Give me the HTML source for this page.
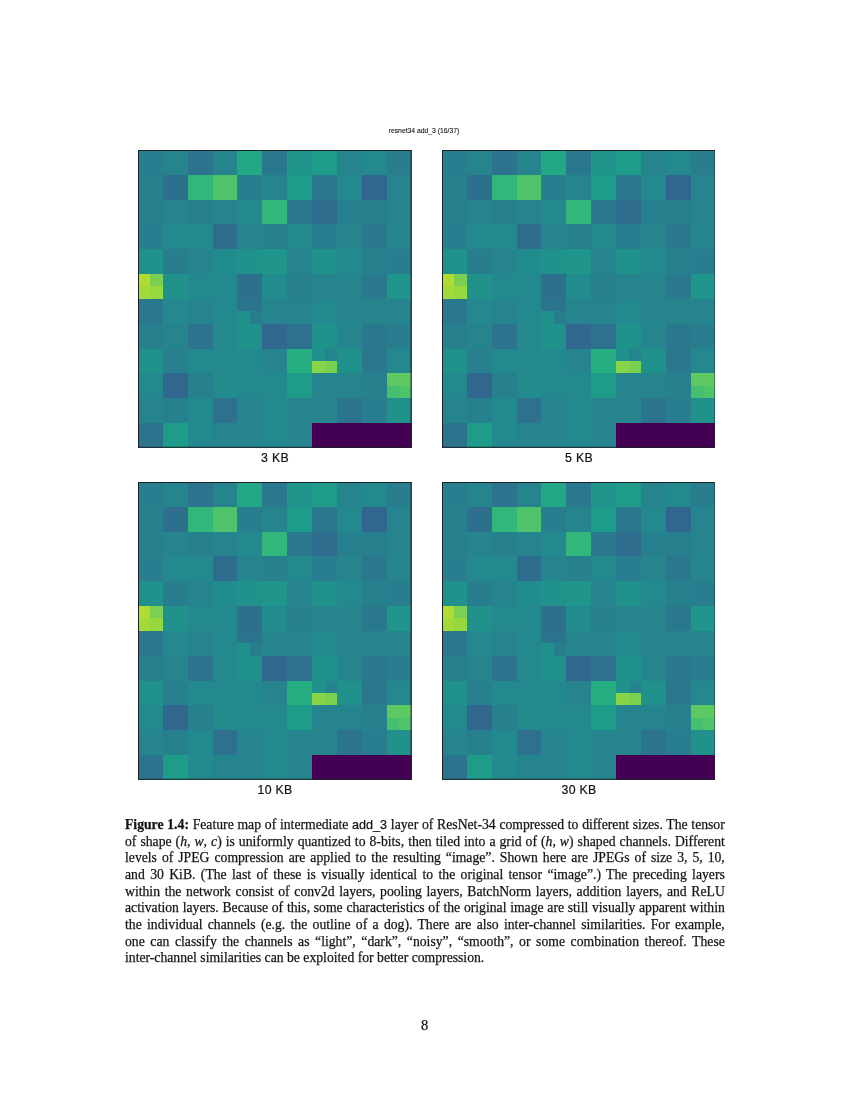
<!DOCTYPE html><html><head><meta charset="utf-8"><style>
html,body{margin:0;padding:0;background:#fff;}
.ln,.lbl,.ttl,.pg{will-change:transform;}
body{width:850px;height:1100px;position:relative;overflow:hidden;}
.ln{position:absolute;left:125.2px;width:599.8px;-webkit-text-stroke:0.25px #222;font-family:"Liberation Serif",serif;font-size:13.7px;line-height:16px;height:16px;color:#111;white-space:nowrap;text-align:justify;text-align-last:justify;}
.ln.last{text-align-last:left;}
.sf{font-family:"Liberation Sans",sans-serif;font-size:12.6px;}
.lbl{position:absolute;width:120px;text-align:center;font-family:"Liberation Sans",sans-serif;font-size:12.3px;letter-spacing:0.3px;color:#111;-webkit-text-stroke:0.2px #111;line-height:14px;white-space:nowrap;}
.ttl{position:absolute;width:120px;text-align:center;font-family:"Liberation Sans",sans-serif;font-size:6.8px;color:#111;-webkit-text-stroke:0.1px #111;line-height:8px;white-space:nowrap;}
.pg{position:absolute;-webkit-text-stroke:0.25px #222;font-family:"Liberation Serif",serif;font-size:14.5px;line-height:16px;color:#111;}
</style></head><body>

<div class="ttl" style="left:364.35px;top:126.6px">resnet34 add_3 (16/37)</div>
<svg style="position:absolute;left:138.0px;top:149.9px" width="273.6" height="297.8" viewBox="0 0 273.6 297.8" shape-rendering="crispEdges"><rect x="0" y="0" width="273.6" height="297.8" fill="#25848e"/><rect x="0.00" y="0.00" width="25.17" height="25.12" fill="#287d8e"/><rect x="24.87" y="0.00" width="25.17" height="25.12" fill="#25848e"/><rect x="49.75" y="0.00" width="25.17" height="25.12" fill="#2c738e"/><rect x="74.62" y="0.00" width="25.17" height="25.12" fill="#25848e"/><rect x="99.49" y="0.00" width="25.17" height="25.12" fill="#22a884"/><rect x="124.36" y="0.00" width="25.17" height="25.12" fill="#2a788e"/><rect x="149.24" y="0.00" width="25.17" height="25.12" fill="#1f958b"/><rect x="174.11" y="0.00" width="25.17" height="25.12" fill="#1e9c89"/><rect x="198.98" y="0.00" width="25.17" height="25.12" fill="#25848e"/><rect x="223.85" y="0.00" width="25.17" height="25.12" fill="#23898e"/><rect x="248.73" y="0.00" width="25.17" height="25.12" fill="#287d8e"/><rect x="0.00" y="24.82" width="25.17" height="25.12" fill="#27808e"/><rect x="24.87" y="24.82" width="25.17" height="25.12" fill="#2e6f8e"/><rect x="49.75" y="24.82" width="25.17" height="25.12" fill="#32b67a"/><rect x="74.62" y="24.82" width="25.17" height="25.12" fill="#4ec36b"/><rect x="99.49" y="24.82" width="25.17" height="25.12" fill="#287d8e"/><rect x="124.36" y="24.82" width="25.17" height="25.12" fill="#25848e"/><rect x="149.24" y="24.82" width="25.17" height="25.12" fill="#1e9c89"/><rect x="174.11" y="24.82" width="25.17" height="25.12" fill="#2a788e"/><rect x="198.98" y="24.82" width="25.17" height="25.12" fill="#23898e"/><rect x="223.85" y="24.82" width="25.17" height="25.12" fill="#31678e"/><rect x="248.73" y="24.82" width="25.17" height="25.12" fill="#25848e"/><rect x="0.00" y="49.63" width="25.17" height="25.12" fill="#27808e"/><rect x="24.87" y="49.63" width="25.17" height="25.12" fill="#25848e"/><rect x="49.75" y="49.63" width="25.17" height="25.12" fill="#27808e"/><rect x="74.62" y="49.63" width="25.17" height="25.12" fill="#25848e"/><rect x="99.49" y="49.63" width="25.17" height="25.12" fill="#23898e"/><rect x="124.36" y="49.63" width="25.17" height="25.12" fill="#32b67a"/><rect x="149.24" y="49.63" width="25.17" height="25.12" fill="#2a788e"/><rect x="174.11" y="49.63" width="25.17" height="25.12" fill="#2f6c8e"/><rect x="198.98" y="49.63" width="25.17" height="25.12" fill="#27808e"/><rect x="223.85" y="49.63" width="25.17" height="25.12" fill="#27808e"/><rect x="248.73" y="49.63" width="25.17" height="25.12" fill="#25848e"/><rect x="0.00" y="74.45" width="25.17" height="25.12" fill="#287d8e"/><rect x="24.87" y="74.45" width="25.17" height="25.12" fill="#23898e"/><rect x="49.75" y="74.45" width="25.17" height="25.12" fill="#23898e"/><rect x="74.62" y="74.45" width="25.17" height="25.12" fill="#2f6c8e"/><rect x="99.49" y="74.45" width="25.17" height="25.12" fill="#25848e"/><rect x="124.36" y="74.45" width="25.17" height="25.12" fill="#27808e"/><rect x="149.24" y="74.45" width="25.17" height="25.12" fill="#23898e"/><rect x="174.11" y="74.45" width="25.17" height="25.12" fill="#287d8e"/><rect x="198.98" y="74.45" width="25.17" height="25.12" fill="#25848e"/><rect x="223.85" y="74.45" width="25.17" height="25.12" fill="#2a788e"/><rect x="248.73" y="74.45" width="25.17" height="25.12" fill="#25848e"/><rect x="0.00" y="99.27" width="25.17" height="25.12" fill="#21918c"/><rect x="24.87" y="99.27" width="25.17" height="25.12" fill="#287d8e"/><rect x="49.75" y="99.27" width="25.17" height="25.12" fill="#25848e"/><rect x="74.62" y="99.27" width="25.17" height="25.12" fill="#228b8d"/><rect x="99.49" y="99.27" width="25.17" height="25.12" fill="#21918c"/><rect x="124.36" y="99.27" width="25.17" height="25.12" fill="#1f958b"/><rect x="149.24" y="99.27" width="25.17" height="25.12" fill="#25848e"/><rect x="174.11" y="99.27" width="25.17" height="25.12" fill="#21918c"/><rect x="198.98" y="99.27" width="25.17" height="25.12" fill="#23898e"/><rect x="223.85" y="99.27" width="25.17" height="25.12" fill="#27808e"/><rect x="248.73" y="99.27" width="25.17" height="25.12" fill="#287d8e"/><rect x="0.00" y="124.08" width="12.74" height="12.71" fill="#b0dd2f"/><rect x="12.44" y="124.08" width="12.74" height="12.71" fill="#7ad151"/><rect x="0.00" y="136.49" width="12.74" height="12.71" fill="#a2da37"/><rect x="12.44" y="136.49" width="12.74" height="12.71" fill="#95d840"/><rect x="24.87" y="124.08" width="25.17" height="25.12" fill="#21918c"/><rect x="49.75" y="124.08" width="25.17" height="25.12" fill="#23898e"/><rect x="74.62" y="124.08" width="25.17" height="25.12" fill="#23898e"/><rect x="99.49" y="124.08" width="25.17" height="25.12" fill="#2e6f8e"/><rect x="124.36" y="124.08" width="25.17" height="25.12" fill="#228b8d"/><rect x="149.24" y="124.08" width="25.17" height="25.12" fill="#27808e"/><rect x="174.11" y="124.08" width="25.17" height="25.12" fill="#25848e"/><rect x="198.98" y="124.08" width="25.17" height="25.12" fill="#25848e"/><rect x="223.85" y="124.08" width="25.17" height="25.12" fill="#2a788e"/><rect x="248.73" y="124.08" width="25.17" height="25.12" fill="#1f958b"/><rect x="0.00" y="148.90" width="25.17" height="25.12" fill="#2a788e"/><rect x="24.87" y="148.90" width="25.17" height="25.12" fill="#23898e"/><rect x="49.75" y="148.90" width="25.17" height="25.12" fill="#25848e"/><rect x="74.62" y="148.90" width="25.17" height="25.12" fill="#23898e"/><rect x="99.49" y="148.90" width="12.74" height="12.71" fill="#2c738e"/><rect x="111.93" y="148.90" width="12.74" height="12.71" fill="#2c738e"/><rect x="99.49" y="161.31" width="12.74" height="12.71" fill="#21918c"/><rect x="111.93" y="161.31" width="12.74" height="12.71" fill="#287d8e"/><rect x="124.36" y="148.90" width="25.17" height="25.12" fill="#25848e"/><rect x="149.24" y="148.90" width="25.17" height="25.12" fill="#25848e"/><rect x="174.11" y="148.90" width="25.17" height="25.12" fill="#23898e"/><rect x="198.98" y="148.90" width="25.17" height="25.12" fill="#25848e"/><rect x="223.85" y="148.90" width="25.17" height="25.12" fill="#25848e"/><rect x="248.73" y="148.90" width="25.17" height="25.12" fill="#25848e"/><rect x="0.00" y="173.72" width="25.17" height="25.12" fill="#27808e"/><rect x="24.87" y="173.72" width="25.17" height="25.12" fill="#25848e"/><rect x="49.75" y="173.72" width="25.17" height="25.12" fill="#2c738e"/><rect x="74.62" y="173.72" width="25.17" height="25.12" fill="#23898e"/><rect x="99.49" y="173.72" width="25.17" height="25.12" fill="#21918c"/><rect x="124.36" y="173.72" width="25.17" height="25.12" fill="#31678e"/><rect x="149.24" y="173.72" width="25.17" height="25.12" fill="#2d718e"/><rect x="174.11" y="173.72" width="25.17" height="25.12" fill="#21918c"/><rect x="198.98" y="173.72" width="25.17" height="25.12" fill="#25848e"/><rect x="223.85" y="173.72" width="25.17" height="25.12" fill="#2a788e"/><rect x="248.73" y="173.72" width="25.17" height="25.12" fill="#287d8e"/><rect x="0.00" y="198.53" width="25.17" height="25.12" fill="#21918c"/><rect x="24.87" y="198.53" width="25.17" height="25.12" fill="#27808e"/><rect x="49.75" y="198.53" width="25.17" height="25.12" fill="#23898e"/><rect x="74.62" y="198.53" width="25.17" height="25.12" fill="#23898e"/><rect x="99.49" y="198.53" width="25.17" height="25.12" fill="#23898e"/><rect x="124.36" y="198.53" width="25.17" height="25.12" fill="#25848e"/><rect x="149.24" y="198.53" width="25.17" height="25.12" fill="#26ad81"/><rect x="174.11" y="198.53" width="12.74" height="12.71" fill="#21918c"/><rect x="186.55" y="198.53" width="12.74" height="12.71" fill="#25848e"/><rect x="174.11" y="210.94" width="12.74" height="12.71" fill="#86d549"/><rect x="186.55" y="210.94" width="12.74" height="12.71" fill="#7ad151"/><rect x="198.98" y="198.53" width="25.17" height="25.12" fill="#21918c"/><rect x="223.85" y="198.53" width="25.17" height="25.12" fill="#2a788e"/><rect x="248.73" y="198.53" width="25.17" height="25.12" fill="#23898e"/><rect x="0.00" y="223.35" width="25.17" height="25.12" fill="#23898e"/><rect x="24.87" y="223.35" width="25.17" height="25.12" fill="#31678e"/><rect x="49.75" y="223.35" width="25.17" height="25.12" fill="#27808e"/><rect x="74.62" y="223.35" width="25.17" height="25.12" fill="#228b8d"/><rect x="99.49" y="223.35" width="25.17" height="25.12" fill="#23898e"/><rect x="124.36" y="223.35" width="25.17" height="25.12" fill="#23898e"/><rect x="149.24" y="223.35" width="25.17" height="25.12" fill="#1e9c89"/><rect x="174.11" y="223.35" width="25.17" height="25.12" fill="#25848e"/><rect x="198.98" y="223.35" width="25.17" height="25.12" fill="#25848e"/><rect x="223.85" y="223.35" width="25.17" height="25.12" fill="#27808e"/><rect x="248.73" y="223.35" width="12.74" height="12.71" fill="#5ec962"/><rect x="261.16" y="223.35" width="12.74" height="12.71" fill="#5ec962"/><rect x="248.73" y="235.76" width="12.74" height="12.71" fill="#44bf70"/><rect x="261.16" y="235.76" width="12.74" height="12.71" fill="#4ec36b"/><rect x="0.00" y="248.17" width="25.17" height="25.12" fill="#25848e"/><rect x="24.87" y="248.17" width="25.17" height="25.12" fill="#27808e"/><rect x="49.75" y="248.17" width="25.17" height="25.12" fill="#23898e"/><rect x="74.62" y="248.17" width="25.17" height="25.12" fill="#2d718e"/><rect x="99.49" y="248.17" width="25.17" height="25.12" fill="#25848e"/><rect x="124.36" y="248.17" width="25.17" height="25.12" fill="#23898e"/><rect x="149.24" y="248.17" width="25.17" height="25.12" fill="#25848e"/><rect x="174.11" y="248.17" width="25.17" height="25.12" fill="#25848e"/><rect x="198.98" y="248.17" width="25.17" height="25.12" fill="#2c738e"/><rect x="223.85" y="248.17" width="25.17" height="25.12" fill="#287d8e"/><rect x="248.73" y="248.17" width="25.17" height="25.12" fill="#21918c"/><rect x="0.00" y="272.98" width="25.17" height="25.12" fill="#2c738e"/><rect x="24.87" y="272.98" width="25.17" height="25.12" fill="#1e9c89"/><rect x="49.75" y="272.98" width="25.17" height="25.12" fill="#23898e"/><rect x="74.62" y="272.98" width="25.17" height="25.12" fill="#25848e"/><rect x="99.49" y="272.98" width="25.17" height="25.12" fill="#25848e"/><rect x="124.36" y="272.98" width="25.17" height="25.12" fill="#23898e"/><rect x="149.24" y="272.98" width="25.17" height="25.12" fill="#25848e"/><rect x="174.11" y="272.98" width="25.17" height="25.12" fill="#440154"/><rect x="198.98" y="272.98" width="25.17" height="25.12" fill="#440154"/><rect x="223.85" y="272.98" width="25.17" height="25.12" fill="#440154"/><rect x="248.73" y="272.98" width="25.17" height="25.12" fill="#440154"/><rect x="174.11" y="272.98" width="100.49" height="25.82" fill="#440154"/><rect x="0.5" y="0.5" width="272.6" height="296.8" fill="none" stroke="#1c2228" stroke-width="1" shape-rendering="auto"/></svg>
<svg style="position:absolute;left:441.8px;top:149.9px" width="273.6" height="297.8" viewBox="0 0 273.6 297.8" shape-rendering="crispEdges"><rect x="0" y="0" width="273.6" height="297.8" fill="#25848e"/><rect x="0.00" y="0.00" width="25.17" height="25.12" fill="#287d8e"/><rect x="24.87" y="0.00" width="25.17" height="25.12" fill="#25848e"/><rect x="49.75" y="0.00" width="25.17" height="25.12" fill="#2c738e"/><rect x="74.62" y="0.00" width="25.17" height="25.12" fill="#25848e"/><rect x="99.49" y="0.00" width="25.17" height="25.12" fill="#22a884"/><rect x="124.36" y="0.00" width="25.17" height="25.12" fill="#2a788e"/><rect x="149.24" y="0.00" width="25.17" height="25.12" fill="#1f958b"/><rect x="174.11" y="0.00" width="25.17" height="25.12" fill="#1e9c89"/><rect x="198.98" y="0.00" width="25.17" height="25.12" fill="#25848e"/><rect x="223.85" y="0.00" width="25.17" height="25.12" fill="#23898e"/><rect x="248.73" y="0.00" width="25.17" height="25.12" fill="#287d8e"/><rect x="0.00" y="24.82" width="25.17" height="25.12" fill="#27808e"/><rect x="24.87" y="24.82" width="25.17" height="25.12" fill="#2e6f8e"/><rect x="49.75" y="24.82" width="25.17" height="25.12" fill="#32b67a"/><rect x="74.62" y="24.82" width="25.17" height="25.12" fill="#4ec36b"/><rect x="99.49" y="24.82" width="25.17" height="25.12" fill="#287d8e"/><rect x="124.36" y="24.82" width="25.17" height="25.12" fill="#25848e"/><rect x="149.24" y="24.82" width="25.17" height="25.12" fill="#1e9c89"/><rect x="174.11" y="24.82" width="25.17" height="25.12" fill="#2a788e"/><rect x="198.98" y="24.82" width="25.17" height="25.12" fill="#23898e"/><rect x="223.85" y="24.82" width="25.17" height="25.12" fill="#31678e"/><rect x="248.73" y="24.82" width="25.17" height="25.12" fill="#25848e"/><rect x="0.00" y="49.63" width="25.17" height="25.12" fill="#27808e"/><rect x="24.87" y="49.63" width="25.17" height="25.12" fill="#25848e"/><rect x="49.75" y="49.63" width="25.17" height="25.12" fill="#27808e"/><rect x="74.62" y="49.63" width="25.17" height="25.12" fill="#25848e"/><rect x="99.49" y="49.63" width="25.17" height="25.12" fill="#23898e"/><rect x="124.36" y="49.63" width="25.17" height="25.12" fill="#32b67a"/><rect x="149.24" y="49.63" width="25.17" height="25.12" fill="#2a788e"/><rect x="174.11" y="49.63" width="25.17" height="25.12" fill="#2f6c8e"/><rect x="198.98" y="49.63" width="25.17" height="25.12" fill="#27808e"/><rect x="223.85" y="49.63" width="25.17" height="25.12" fill="#27808e"/><rect x="248.73" y="49.63" width="25.17" height="25.12" fill="#25848e"/><rect x="0.00" y="74.45" width="25.17" height="25.12" fill="#287d8e"/><rect x="24.87" y="74.45" width="25.17" height="25.12" fill="#23898e"/><rect x="49.75" y="74.45" width="25.17" height="25.12" fill="#23898e"/><rect x="74.62" y="74.45" width="25.17" height="25.12" fill="#2f6c8e"/><rect x="99.49" y="74.45" width="25.17" height="25.12" fill="#25848e"/><rect x="124.36" y="74.45" width="25.17" height="25.12" fill="#27808e"/><rect x="149.24" y="74.45" width="25.17" height="25.12" fill="#23898e"/><rect x="174.11" y="74.45" width="25.17" height="25.12" fill="#287d8e"/><rect x="198.98" y="74.45" width="25.17" height="25.12" fill="#25848e"/><rect x="223.85" y="74.45" width="25.17" height="25.12" fill="#2a788e"/><rect x="248.73" y="74.45" width="25.17" height="25.12" fill="#25848e"/><rect x="0.00" y="99.27" width="25.17" height="25.12" fill="#21918c"/><rect x="24.87" y="99.27" width="25.17" height="25.12" fill="#287d8e"/><rect x="49.75" y="99.27" width="25.17" height="25.12" fill="#25848e"/><rect x="74.62" y="99.27" width="25.17" height="25.12" fill="#228b8d"/><rect x="99.49" y="99.27" width="25.17" height="25.12" fill="#21918c"/><rect x="124.36" y="99.27" width="25.17" height="25.12" fill="#1f958b"/><rect x="149.24" y="99.27" width="25.17" height="25.12" fill="#25848e"/><rect x="174.11" y="99.27" width="25.17" height="25.12" fill="#21918c"/><rect x="198.98" y="99.27" width="25.17" height="25.12" fill="#23898e"/><rect x="223.85" y="99.27" width="25.17" height="25.12" fill="#27808e"/><rect x="248.73" y="99.27" width="25.17" height="25.12" fill="#287d8e"/><rect x="0.00" y="124.08" width="12.74" height="12.71" fill="#b0dd2f"/><rect x="12.44" y="124.08" width="12.74" height="12.71" fill="#7ad151"/><rect x="0.00" y="136.49" width="12.74" height="12.71" fill="#a2da37"/><rect x="12.44" y="136.49" width="12.74" height="12.71" fill="#95d840"/><rect x="24.87" y="124.08" width="25.17" height="25.12" fill="#21918c"/><rect x="49.75" y="124.08" width="25.17" height="25.12" fill="#23898e"/><rect x="74.62" y="124.08" width="25.17" height="25.12" fill="#23898e"/><rect x="99.49" y="124.08" width="25.17" height="25.12" fill="#2e6f8e"/><rect x="124.36" y="124.08" width="25.17" height="25.12" fill="#228b8d"/><rect x="149.24" y="124.08" width="25.17" height="25.12" fill="#27808e"/><rect x="174.11" y="124.08" width="25.17" height="25.12" fill="#25848e"/><rect x="198.98" y="124.08" width="25.17" height="25.12" fill="#25848e"/><rect x="223.85" y="124.08" width="25.17" height="25.12" fill="#2a788e"/><rect x="248.73" y="124.08" width="25.17" height="25.12" fill="#1f958b"/><rect x="0.00" y="148.90" width="25.17" height="25.12" fill="#2a788e"/><rect x="24.87" y="148.90" width="25.17" height="25.12" fill="#23898e"/><rect x="49.75" y="148.90" width="25.17" height="25.12" fill="#25848e"/><rect x="74.62" y="148.90" width="25.17" height="25.12" fill="#23898e"/><rect x="99.49" y="148.90" width="12.74" height="12.71" fill="#2c738e"/><rect x="111.93" y="148.90" width="12.74" height="12.71" fill="#2c738e"/><rect x="99.49" y="161.31" width="12.74" height="12.71" fill="#21918c"/><rect x="111.93" y="161.31" width="12.74" height="12.71" fill="#287d8e"/><rect x="124.36" y="148.90" width="25.17" height="25.12" fill="#25848e"/><rect x="149.24" y="148.90" width="25.17" height="25.12" fill="#25848e"/><rect x="174.11" y="148.90" width="25.17" height="25.12" fill="#23898e"/><rect x="198.98" y="148.90" width="25.17" height="25.12" fill="#25848e"/><rect x="223.85" y="148.90" width="25.17" height="25.12" fill="#25848e"/><rect x="248.73" y="148.90" width="25.17" height="25.12" fill="#25848e"/><rect x="0.00" y="173.72" width="25.17" height="25.12" fill="#27808e"/><rect x="24.87" y="173.72" width="25.17" height="25.12" fill="#25848e"/><rect x="49.75" y="173.72" width="25.17" height="25.12" fill="#2c738e"/><rect x="74.62" y="173.72" width="25.17" height="25.12" fill="#23898e"/><rect x="99.49" y="173.72" width="25.17" height="25.12" fill="#21918c"/><rect x="124.36" y="173.72" width="25.17" height="25.12" fill="#31678e"/><rect x="149.24" y="173.72" width="25.17" height="25.12" fill="#2d718e"/><rect x="174.11" y="173.72" width="25.17" height="25.12" fill="#21918c"/><rect x="198.98" y="173.72" width="25.17" height="25.12" fill="#25848e"/><rect x="223.85" y="173.72" width="25.17" height="25.12" fill="#2a788e"/><rect x="248.73" y="173.72" width="25.17" height="25.12" fill="#287d8e"/><rect x="0.00" y="198.53" width="25.17" height="25.12" fill="#21918c"/><rect x="24.87" y="198.53" width="25.17" height="25.12" fill="#27808e"/><rect x="49.75" y="198.53" width="25.17" height="25.12" fill="#23898e"/><rect x="74.62" y="198.53" width="25.17" height="25.12" fill="#23898e"/><rect x="99.49" y="198.53" width="25.17" height="25.12" fill="#23898e"/><rect x="124.36" y="198.53" width="25.17" height="25.12" fill="#25848e"/><rect x="149.24" y="198.53" width="25.17" height="25.12" fill="#26ad81"/><rect x="174.11" y="198.53" width="12.74" height="12.71" fill="#21918c"/><rect x="186.55" y="198.53" width="12.74" height="12.71" fill="#25848e"/><rect x="174.11" y="210.94" width="12.74" height="12.71" fill="#86d549"/><rect x="186.55" y="210.94" width="12.74" height="12.71" fill="#7ad151"/><rect x="198.98" y="198.53" width="25.17" height="25.12" fill="#21918c"/><rect x="223.85" y="198.53" width="25.17" height="25.12" fill="#2a788e"/><rect x="248.73" y="198.53" width="25.17" height="25.12" fill="#23898e"/><rect x="0.00" y="223.35" width="25.17" height="25.12" fill="#23898e"/><rect x="24.87" y="223.35" width="25.17" height="25.12" fill="#31678e"/><rect x="49.75" y="223.35" width="25.17" height="25.12" fill="#27808e"/><rect x="74.62" y="223.35" width="25.17" height="25.12" fill="#228b8d"/><rect x="99.49" y="223.35" width="25.17" height="25.12" fill="#23898e"/><rect x="124.36" y="223.35" width="25.17" height="25.12" fill="#23898e"/><rect x="149.24" y="223.35" width="25.17" height="25.12" fill="#1e9c89"/><rect x="174.11" y="223.35" width="25.17" height="25.12" fill="#25848e"/><rect x="198.98" y="223.35" width="25.17" height="25.12" fill="#25848e"/><rect x="223.85" y="223.35" width="25.17" height="25.12" fill="#27808e"/><rect x="248.73" y="223.35" width="12.74" height="12.71" fill="#5ec962"/><rect x="261.16" y="223.35" width="12.74" height="12.71" fill="#5ec962"/><rect x="248.73" y="235.76" width="12.74" height="12.71" fill="#44bf70"/><rect x="261.16" y="235.76" width="12.74" height="12.71" fill="#4ec36b"/><rect x="0.00" y="248.17" width="25.17" height="25.12" fill="#25848e"/><rect x="24.87" y="248.17" width="25.17" height="25.12" fill="#27808e"/><rect x="49.75" y="248.17" width="25.17" height="25.12" fill="#23898e"/><rect x="74.62" y="248.17" width="25.17" height="25.12" fill="#2d718e"/><rect x="99.49" y="248.17" width="25.17" height="25.12" fill="#25848e"/><rect x="124.36" y="248.17" width="25.17" height="25.12" fill="#23898e"/><rect x="149.24" y="248.17" width="25.17" height="25.12" fill="#25848e"/><rect x="174.11" y="248.17" width="25.17" height="25.12" fill="#25848e"/><rect x="198.98" y="248.17" width="25.17" height="25.12" fill="#2c738e"/><rect x="223.85" y="248.17" width="25.17" height="25.12" fill="#287d8e"/><rect x="248.73" y="248.17" width="25.17" height="25.12" fill="#21918c"/><rect x="0.00" y="272.98" width="25.17" height="25.12" fill="#2c738e"/><rect x="24.87" y="272.98" width="25.17" height="25.12" fill="#1e9c89"/><rect x="49.75" y="272.98" width="25.17" height="25.12" fill="#23898e"/><rect x="74.62" y="272.98" width="25.17" height="25.12" fill="#25848e"/><rect x="99.49" y="272.98" width="25.17" height="25.12" fill="#25848e"/><rect x="124.36" y="272.98" width="25.17" height="25.12" fill="#23898e"/><rect x="149.24" y="272.98" width="25.17" height="25.12" fill="#25848e"/><rect x="174.11" y="272.98" width="25.17" height="25.12" fill="#440154"/><rect x="198.98" y="272.98" width="25.17" height="25.12" fill="#440154"/><rect x="223.85" y="272.98" width="25.17" height="25.12" fill="#440154"/><rect x="248.73" y="272.98" width="25.17" height="25.12" fill="#440154"/><rect x="174.11" y="272.98" width="100.49" height="25.82" fill="#440154"/><rect x="0.5" y="0.5" width="272.6" height="296.8" fill="none" stroke="#1c2228" stroke-width="1" shape-rendering="auto"/></svg>
<svg style="position:absolute;left:138.0px;top:482.0px" width="273.6" height="297.8" viewBox="0 0 273.6 297.8" shape-rendering="crispEdges"><rect x="0" y="0" width="273.6" height="297.8" fill="#25848e"/><rect x="0.00" y="0.00" width="25.17" height="25.12" fill="#287d8e"/><rect x="24.87" y="0.00" width="25.17" height="25.12" fill="#25848e"/><rect x="49.75" y="0.00" width="25.17" height="25.12" fill="#2c738e"/><rect x="74.62" y="0.00" width="25.17" height="25.12" fill="#25848e"/><rect x="99.49" y="0.00" width="25.17" height="25.12" fill="#22a884"/><rect x="124.36" y="0.00" width="25.17" height="25.12" fill="#2a788e"/><rect x="149.24" y="0.00" width="25.17" height="25.12" fill="#1f958b"/><rect x="174.11" y="0.00" width="25.17" height="25.12" fill="#1e9c89"/><rect x="198.98" y="0.00" width="25.17" height="25.12" fill="#25848e"/><rect x="223.85" y="0.00" width="25.17" height="25.12" fill="#23898e"/><rect x="248.73" y="0.00" width="25.17" height="25.12" fill="#287d8e"/><rect x="0.00" y="24.82" width="25.17" height="25.12" fill="#27808e"/><rect x="24.87" y="24.82" width="25.17" height="25.12" fill="#2e6f8e"/><rect x="49.75" y="24.82" width="25.17" height="25.12" fill="#32b67a"/><rect x="74.62" y="24.82" width="25.17" height="25.12" fill="#4ec36b"/><rect x="99.49" y="24.82" width="25.17" height="25.12" fill="#287d8e"/><rect x="124.36" y="24.82" width="25.17" height="25.12" fill="#25848e"/><rect x="149.24" y="24.82" width="25.17" height="25.12" fill="#1e9c89"/><rect x="174.11" y="24.82" width="25.17" height="25.12" fill="#2a788e"/><rect x="198.98" y="24.82" width="25.17" height="25.12" fill="#23898e"/><rect x="223.85" y="24.82" width="25.17" height="25.12" fill="#31678e"/><rect x="248.73" y="24.82" width="25.17" height="25.12" fill="#25848e"/><rect x="0.00" y="49.63" width="25.17" height="25.12" fill="#27808e"/><rect x="24.87" y="49.63" width="25.17" height="25.12" fill="#25848e"/><rect x="49.75" y="49.63" width="25.17" height="25.12" fill="#27808e"/><rect x="74.62" y="49.63" width="25.17" height="25.12" fill="#25848e"/><rect x="99.49" y="49.63" width="25.17" height="25.12" fill="#23898e"/><rect x="124.36" y="49.63" width="25.17" height="25.12" fill="#32b67a"/><rect x="149.24" y="49.63" width="25.17" height="25.12" fill="#2a788e"/><rect x="174.11" y="49.63" width="25.17" height="25.12" fill="#2f6c8e"/><rect x="198.98" y="49.63" width="25.17" height="25.12" fill="#27808e"/><rect x="223.85" y="49.63" width="25.17" height="25.12" fill="#27808e"/><rect x="248.73" y="49.63" width="25.17" height="25.12" fill="#25848e"/><rect x="0.00" y="74.45" width="25.17" height="25.12" fill="#287d8e"/><rect x="24.87" y="74.45" width="25.17" height="25.12" fill="#23898e"/><rect x="49.75" y="74.45" width="25.17" height="25.12" fill="#23898e"/><rect x="74.62" y="74.45" width="25.17" height="25.12" fill="#2f6c8e"/><rect x="99.49" y="74.45" width="25.17" height="25.12" fill="#25848e"/><rect x="124.36" y="74.45" width="25.17" height="25.12" fill="#27808e"/><rect x="149.24" y="74.45" width="25.17" height="25.12" fill="#23898e"/><rect x="174.11" y="74.45" width="25.17" height="25.12" fill="#287d8e"/><rect x="198.98" y="74.45" width="25.17" height="25.12" fill="#25848e"/><rect x="223.85" y="74.45" width="25.17" height="25.12" fill="#2a788e"/><rect x="248.73" y="74.45" width="25.17" height="25.12" fill="#25848e"/><rect x="0.00" y="99.27" width="25.17" height="25.12" fill="#21918c"/><rect x="24.87" y="99.27" width="25.17" height="25.12" fill="#287d8e"/><rect x="49.75" y="99.27" width="25.17" height="25.12" fill="#25848e"/><rect x="74.62" y="99.27" width="25.17" height="25.12" fill="#228b8d"/><rect x="99.49" y="99.27" width="25.17" height="25.12" fill="#21918c"/><rect x="124.36" y="99.27" width="25.17" height="25.12" fill="#1f958b"/><rect x="149.24" y="99.27" width="25.17" height="25.12" fill="#25848e"/><rect x="174.11" y="99.27" width="25.17" height="25.12" fill="#21918c"/><rect x="198.98" y="99.27" width="25.17" height="25.12" fill="#23898e"/><rect x="223.85" y="99.27" width="25.17" height="25.12" fill="#27808e"/><rect x="248.73" y="99.27" width="25.17" height="25.12" fill="#287d8e"/><rect x="0.00" y="124.08" width="12.74" height="12.71" fill="#b0dd2f"/><rect x="12.44" y="124.08" width="12.74" height="12.71" fill="#7ad151"/><rect x="0.00" y="136.49" width="12.74" height="12.71" fill="#a2da37"/><rect x="12.44" y="136.49" width="12.74" height="12.71" fill="#95d840"/><rect x="24.87" y="124.08" width="25.17" height="25.12" fill="#21918c"/><rect x="49.75" y="124.08" width="25.17" height="25.12" fill="#23898e"/><rect x="74.62" y="124.08" width="25.17" height="25.12" fill="#23898e"/><rect x="99.49" y="124.08" width="25.17" height="25.12" fill="#2e6f8e"/><rect x="124.36" y="124.08" width="25.17" height="25.12" fill="#228b8d"/><rect x="149.24" y="124.08" width="25.17" height="25.12" fill="#27808e"/><rect x="174.11" y="124.08" width="25.17" height="25.12" fill="#25848e"/><rect x="198.98" y="124.08" width="25.17" height="25.12" fill="#25848e"/><rect x="223.85" y="124.08" width="25.17" height="25.12" fill="#2a788e"/><rect x="248.73" y="124.08" width="25.17" height="25.12" fill="#1f958b"/><rect x="0.00" y="148.90" width="25.17" height="25.12" fill="#2a788e"/><rect x="24.87" y="148.90" width="25.17" height="25.12" fill="#23898e"/><rect x="49.75" y="148.90" width="25.17" height="25.12" fill="#25848e"/><rect x="74.62" y="148.90" width="25.17" height="25.12" fill="#23898e"/><rect x="99.49" y="148.90" width="12.74" height="12.71" fill="#2c738e"/><rect x="111.93" y="148.90" width="12.74" height="12.71" fill="#2c738e"/><rect x="99.49" y="161.31" width="12.74" height="12.71" fill="#21918c"/><rect x="111.93" y="161.31" width="12.74" height="12.71" fill="#287d8e"/><rect x="124.36" y="148.90" width="25.17" height="25.12" fill="#25848e"/><rect x="149.24" y="148.90" width="25.17" height="25.12" fill="#25848e"/><rect x="174.11" y="148.90" width="25.17" height="25.12" fill="#23898e"/><rect x="198.98" y="148.90" width="25.17" height="25.12" fill="#25848e"/><rect x="223.85" y="148.90" width="25.17" height="25.12" fill="#25848e"/><rect x="248.73" y="148.90" width="25.17" height="25.12" fill="#25848e"/><rect x="0.00" y="173.72" width="25.17" height="25.12" fill="#27808e"/><rect x="24.87" y="173.72" width="25.17" height="25.12" fill="#25848e"/><rect x="49.75" y="173.72" width="25.17" height="25.12" fill="#2c738e"/><rect x="74.62" y="173.72" width="25.17" height="25.12" fill="#23898e"/><rect x="99.49" y="173.72" width="25.17" height="25.12" fill="#21918c"/><rect x="124.36" y="173.72" width="25.17" height="25.12" fill="#31678e"/><rect x="149.24" y="173.72" width="25.17" height="25.12" fill="#2d718e"/><rect x="174.11" y="173.72" width="25.17" height="25.12" fill="#21918c"/><rect x="198.98" y="173.72" width="25.17" height="25.12" fill="#25848e"/><rect x="223.85" y="173.72" width="25.17" height="25.12" fill="#2a788e"/><rect x="248.73" y="173.72" width="25.17" height="25.12" fill="#287d8e"/><rect x="0.00" y="198.53" width="25.17" height="25.12" fill="#21918c"/><rect x="24.87" y="198.53" width="25.17" height="25.12" fill="#27808e"/><rect x="49.75" y="198.53" width="25.17" height="25.12" fill="#23898e"/><rect x="74.62" y="198.53" width="25.17" height="25.12" fill="#23898e"/><rect x="99.49" y="198.53" width="25.17" height="25.12" fill="#23898e"/><rect x="124.36" y="198.53" width="25.17" height="25.12" fill="#25848e"/><rect x="149.24" y="198.53" width="25.17" height="25.12" fill="#26ad81"/><rect x="174.11" y="198.53" width="12.74" height="12.71" fill="#21918c"/><rect x="186.55" y="198.53" width="12.74" height="12.71" fill="#25848e"/><rect x="174.11" y="210.94" width="12.74" height="12.71" fill="#86d549"/><rect x="186.55" y="210.94" width="12.74" height="12.71" fill="#7ad151"/><rect x="198.98" y="198.53" width="25.17" height="25.12" fill="#21918c"/><rect x="223.85" y="198.53" width="25.17" height="25.12" fill="#2a788e"/><rect x="248.73" y="198.53" width="25.17" height="25.12" fill="#23898e"/><rect x="0.00" y="223.35" width="25.17" height="25.12" fill="#23898e"/><rect x="24.87" y="223.35" width="25.17" height="25.12" fill="#31678e"/><rect x="49.75" y="223.35" width="25.17" height="25.12" fill="#27808e"/><rect x="74.62" y="223.35" width="25.17" height="25.12" fill="#228b8d"/><rect x="99.49" y="223.35" width="25.17" height="25.12" fill="#23898e"/><rect x="124.36" y="223.35" width="25.17" height="25.12" fill="#23898e"/><rect x="149.24" y="223.35" width="25.17" height="25.12" fill="#1e9c89"/><rect x="174.11" y="223.35" width="25.17" height="25.12" fill="#25848e"/><rect x="198.98" y="223.35" width="25.17" height="25.12" fill="#25848e"/><rect x="223.85" y="223.35" width="25.17" height="25.12" fill="#27808e"/><rect x="248.73" y="223.35" width="12.74" height="12.71" fill="#5ec962"/><rect x="261.16" y="223.35" width="12.74" height="12.71" fill="#5ec962"/><rect x="248.73" y="235.76" width="12.74" height="12.71" fill="#44bf70"/><rect x="261.16" y="235.76" width="12.74" height="12.71" fill="#4ec36b"/><rect x="0.00" y="248.17" width="25.17" height="25.12" fill="#25848e"/><rect x="24.87" y="248.17" width="25.17" height="25.12" fill="#27808e"/><rect x="49.75" y="248.17" width="25.17" height="25.12" fill="#23898e"/><rect x="74.62" y="248.17" width="25.17" height="25.12" fill="#2d718e"/><rect x="99.49" y="248.17" width="25.17" height="25.12" fill="#25848e"/><rect x="124.36" y="248.17" width="25.17" height="25.12" fill="#23898e"/><rect x="149.24" y="248.17" width="25.17" height="25.12" fill="#25848e"/><rect x="174.11" y="248.17" width="25.17" height="25.12" fill="#25848e"/><rect x="198.98" y="248.17" width="25.17" height="25.12" fill="#2c738e"/><rect x="223.85" y="248.17" width="25.17" height="25.12" fill="#287d8e"/><rect x="248.73" y="248.17" width="25.17" height="25.12" fill="#21918c"/><rect x="0.00" y="272.98" width="25.17" height="25.12" fill="#2c738e"/><rect x="24.87" y="272.98" width="25.17" height="25.12" fill="#1e9c89"/><rect x="49.75" y="272.98" width="25.17" height="25.12" fill="#23898e"/><rect x="74.62" y="272.98" width="25.17" height="25.12" fill="#25848e"/><rect x="99.49" y="272.98" width="25.17" height="25.12" fill="#25848e"/><rect x="124.36" y="272.98" width="25.17" height="25.12" fill="#23898e"/><rect x="149.24" y="272.98" width="25.17" height="25.12" fill="#25848e"/><rect x="174.11" y="272.98" width="25.17" height="25.12" fill="#440154"/><rect x="198.98" y="272.98" width="25.17" height="25.12" fill="#440154"/><rect x="223.85" y="272.98" width="25.17" height="25.12" fill="#440154"/><rect x="248.73" y="272.98" width="25.17" height="25.12" fill="#440154"/><rect x="174.11" y="272.98" width="100.49" height="25.82" fill="#440154"/><rect x="0.5" y="0.5" width="272.6" height="296.8" fill="none" stroke="#1c2228" stroke-width="1" shape-rendering="auto"/></svg>
<svg style="position:absolute;left:441.8px;top:482.0px" width="273.6" height="297.8" viewBox="0 0 273.6 297.8" shape-rendering="crispEdges"><rect x="0" y="0" width="273.6" height="297.8" fill="#25848e"/><rect x="0.00" y="0.00" width="25.17" height="25.12" fill="#287d8e"/><rect x="24.87" y="0.00" width="25.17" height="25.12" fill="#25848e"/><rect x="49.75" y="0.00" width="25.17" height="25.12" fill="#2c738e"/><rect x="74.62" y="0.00" width="25.17" height="25.12" fill="#25848e"/><rect x="99.49" y="0.00" width="25.17" height="25.12" fill="#22a884"/><rect x="124.36" y="0.00" width="25.17" height="25.12" fill="#2a788e"/><rect x="149.24" y="0.00" width="25.17" height="25.12" fill="#1f958b"/><rect x="174.11" y="0.00" width="25.17" height="25.12" fill="#1e9c89"/><rect x="198.98" y="0.00" width="25.17" height="25.12" fill="#25848e"/><rect x="223.85" y="0.00" width="25.17" height="25.12" fill="#23898e"/><rect x="248.73" y="0.00" width="25.17" height="25.12" fill="#287d8e"/><rect x="0.00" y="24.82" width="25.17" height="25.12" fill="#27808e"/><rect x="24.87" y="24.82" width="25.17" height="25.12" fill="#2e6f8e"/><rect x="49.75" y="24.82" width="25.17" height="25.12" fill="#32b67a"/><rect x="74.62" y="24.82" width="25.17" height="25.12" fill="#4ec36b"/><rect x="99.49" y="24.82" width="25.17" height="25.12" fill="#287d8e"/><rect x="124.36" y="24.82" width="25.17" height="25.12" fill="#25848e"/><rect x="149.24" y="24.82" width="25.17" height="25.12" fill="#1e9c89"/><rect x="174.11" y="24.82" width="25.17" height="25.12" fill="#2a788e"/><rect x="198.98" y="24.82" width="25.17" height="25.12" fill="#23898e"/><rect x="223.85" y="24.82" width="25.17" height="25.12" fill="#31678e"/><rect x="248.73" y="24.82" width="25.17" height="25.12" fill="#25848e"/><rect x="0.00" y="49.63" width="25.17" height="25.12" fill="#27808e"/><rect x="24.87" y="49.63" width="25.17" height="25.12" fill="#25848e"/><rect x="49.75" y="49.63" width="25.17" height="25.12" fill="#27808e"/><rect x="74.62" y="49.63" width="25.17" height="25.12" fill="#25848e"/><rect x="99.49" y="49.63" width="25.17" height="25.12" fill="#23898e"/><rect x="124.36" y="49.63" width="25.17" height="25.12" fill="#32b67a"/><rect x="149.24" y="49.63" width="25.17" height="25.12" fill="#2a788e"/><rect x="174.11" y="49.63" width="25.17" height="25.12" fill="#2f6c8e"/><rect x="198.98" y="49.63" width="25.17" height="25.12" fill="#27808e"/><rect x="223.85" y="49.63" width="25.17" height="25.12" fill="#27808e"/><rect x="248.73" y="49.63" width="25.17" height="25.12" fill="#25848e"/><rect x="0.00" y="74.45" width="25.17" height="25.12" fill="#287d8e"/><rect x="24.87" y="74.45" width="25.17" height="25.12" fill="#23898e"/><rect x="49.75" y="74.45" width="25.17" height="25.12" fill="#23898e"/><rect x="74.62" y="74.45" width="25.17" height="25.12" fill="#2f6c8e"/><rect x="99.49" y="74.45" width="25.17" height="25.12" fill="#25848e"/><rect x="124.36" y="74.45" width="25.17" height="25.12" fill="#27808e"/><rect x="149.24" y="74.45" width="25.17" height="25.12" fill="#23898e"/><rect x="174.11" y="74.45" width="25.17" height="25.12" fill="#287d8e"/><rect x="198.98" y="74.45" width="25.17" height="25.12" fill="#25848e"/><rect x="223.85" y="74.45" width="25.17" height="25.12" fill="#2a788e"/><rect x="248.73" y="74.45" width="25.17" height="25.12" fill="#25848e"/><rect x="0.00" y="99.27" width="25.17" height="25.12" fill="#21918c"/><rect x="24.87" y="99.27" width="25.17" height="25.12" fill="#287d8e"/><rect x="49.75" y="99.27" width="25.17" height="25.12" fill="#25848e"/><rect x="74.62" y="99.27" width="25.17" height="25.12" fill="#228b8d"/><rect x="99.49" y="99.27" width="25.17" height="25.12" fill="#21918c"/><rect x="124.36" y="99.27" width="25.17" height="25.12" fill="#1f958b"/><rect x="149.24" y="99.27" width="25.17" height="25.12" fill="#25848e"/><rect x="174.11" y="99.27" width="25.17" height="25.12" fill="#21918c"/><rect x="198.98" y="99.27" width="25.17" height="25.12" fill="#23898e"/><rect x="223.85" y="99.27" width="25.17" height="25.12" fill="#27808e"/><rect x="248.73" y="99.27" width="25.17" height="25.12" fill="#287d8e"/><rect x="0.00" y="124.08" width="12.74" height="12.71" fill="#b0dd2f"/><rect x="12.44" y="124.08" width="12.74" height="12.71" fill="#7ad151"/><rect x="0.00" y="136.49" width="12.74" height="12.71" fill="#a2da37"/><rect x="12.44" y="136.49" width="12.74" height="12.71" fill="#95d840"/><rect x="24.87" y="124.08" width="25.17" height="25.12" fill="#21918c"/><rect x="49.75" y="124.08" width="25.17" height="25.12" fill="#23898e"/><rect x="74.62" y="124.08" width="25.17" height="25.12" fill="#23898e"/><rect x="99.49" y="124.08" width="25.17" height="25.12" fill="#2e6f8e"/><rect x="124.36" y="124.08" width="25.17" height="25.12" fill="#228b8d"/><rect x="149.24" y="124.08" width="25.17" height="25.12" fill="#27808e"/><rect x="174.11" y="124.08" width="25.17" height="25.12" fill="#25848e"/><rect x="198.98" y="124.08" width="25.17" height="25.12" fill="#25848e"/><rect x="223.85" y="124.08" width="25.17" height="25.12" fill="#2a788e"/><rect x="248.73" y="124.08" width="25.17" height="25.12" fill="#1f958b"/><rect x="0.00" y="148.90" width="25.17" height="25.12" fill="#2a788e"/><rect x="24.87" y="148.90" width="25.17" height="25.12" fill="#23898e"/><rect x="49.75" y="148.90" width="25.17" height="25.12" fill="#25848e"/><rect x="74.62" y="148.90" width="25.17" height="25.12" fill="#23898e"/><rect x="99.49" y="148.90" width="12.74" height="12.71" fill="#2c738e"/><rect x="111.93" y="148.90" width="12.74" height="12.71" fill="#2c738e"/><rect x="99.49" y="161.31" width="12.74" height="12.71" fill="#21918c"/><rect x="111.93" y="161.31" width="12.74" height="12.71" fill="#287d8e"/><rect x="124.36" y="148.90" width="25.17" height="25.12" fill="#25848e"/><rect x="149.24" y="148.90" width="25.17" height="25.12" fill="#25848e"/><rect x="174.11" y="148.90" width="25.17" height="25.12" fill="#23898e"/><rect x="198.98" y="148.90" width="25.17" height="25.12" fill="#25848e"/><rect x="223.85" y="148.90" width="25.17" height="25.12" fill="#25848e"/><rect x="248.73" y="148.90" width="25.17" height="25.12" fill="#25848e"/><rect x="0.00" y="173.72" width="25.17" height="25.12" fill="#27808e"/><rect x="24.87" y="173.72" width="25.17" height="25.12" fill="#25848e"/><rect x="49.75" y="173.72" width="25.17" height="25.12" fill="#2c738e"/><rect x="74.62" y="173.72" width="25.17" height="25.12" fill="#23898e"/><rect x="99.49" y="173.72" width="25.17" height="25.12" fill="#21918c"/><rect x="124.36" y="173.72" width="25.17" height="25.12" fill="#31678e"/><rect x="149.24" y="173.72" width="25.17" height="25.12" fill="#2d718e"/><rect x="174.11" y="173.72" width="25.17" height="25.12" fill="#21918c"/><rect x="198.98" y="173.72" width="25.17" height="25.12" fill="#25848e"/><rect x="223.85" y="173.72" width="25.17" height="25.12" fill="#2a788e"/><rect x="248.73" y="173.72" width="25.17" height="25.12" fill="#287d8e"/><rect x="0.00" y="198.53" width="25.17" height="25.12" fill="#21918c"/><rect x="24.87" y="198.53" width="25.17" height="25.12" fill="#27808e"/><rect x="49.75" y="198.53" width="25.17" height="25.12" fill="#23898e"/><rect x="74.62" y="198.53" width="25.17" height="25.12" fill="#23898e"/><rect x="99.49" y="198.53" width="25.17" height="25.12" fill="#23898e"/><rect x="124.36" y="198.53" width="25.17" height="25.12" fill="#25848e"/><rect x="149.24" y="198.53" width="25.17" height="25.12" fill="#26ad81"/><rect x="174.11" y="198.53" width="12.74" height="12.71" fill="#21918c"/><rect x="186.55" y="198.53" width="12.74" height="12.71" fill="#25848e"/><rect x="174.11" y="210.94" width="12.74" height="12.71" fill="#86d549"/><rect x="186.55" y="210.94" width="12.74" height="12.71" fill="#7ad151"/><rect x="198.98" y="198.53" width="25.17" height="25.12" fill="#21918c"/><rect x="223.85" y="198.53" width="25.17" height="25.12" fill="#2a788e"/><rect x="248.73" y="198.53" width="25.17" height="25.12" fill="#23898e"/><rect x="0.00" y="223.35" width="25.17" height="25.12" fill="#23898e"/><rect x="24.87" y="223.35" width="25.17" height="25.12" fill="#31678e"/><rect x="49.75" y="223.35" width="25.17" height="25.12" fill="#27808e"/><rect x="74.62" y="223.35" width="25.17" height="25.12" fill="#228b8d"/><rect x="99.49" y="223.35" width="25.17" height="25.12" fill="#23898e"/><rect x="124.36" y="223.35" width="25.17" height="25.12" fill="#23898e"/><rect x="149.24" y="223.35" width="25.17" height="25.12" fill="#1e9c89"/><rect x="174.11" y="223.35" width="25.17" height="25.12" fill="#25848e"/><rect x="198.98" y="223.35" width="25.17" height="25.12" fill="#25848e"/><rect x="223.85" y="223.35" width="25.17" height="25.12" fill="#27808e"/><rect x="248.73" y="223.35" width="12.74" height="12.71" fill="#5ec962"/><rect x="261.16" y="223.35" width="12.74" height="12.71" fill="#5ec962"/><rect x="248.73" y="235.76" width="12.74" height="12.71" fill="#44bf70"/><rect x="261.16" y="235.76" width="12.74" height="12.71" fill="#4ec36b"/><rect x="0.00" y="248.17" width="25.17" height="25.12" fill="#25848e"/><rect x="24.87" y="248.17" width="25.17" height="25.12" fill="#27808e"/><rect x="49.75" y="248.17" width="25.17" height="25.12" fill="#23898e"/><rect x="74.62" y="248.17" width="25.17" height="25.12" fill="#2d718e"/><rect x="99.49" y="248.17" width="25.17" height="25.12" fill="#25848e"/><rect x="124.36" y="248.17" width="25.17" height="25.12" fill="#23898e"/><rect x="149.24" y="248.17" width="25.17" height="25.12" fill="#25848e"/><rect x="174.11" y="248.17" width="25.17" height="25.12" fill="#25848e"/><rect x="198.98" y="248.17" width="25.17" height="25.12" fill="#2c738e"/><rect x="223.85" y="248.17" width="25.17" height="25.12" fill="#287d8e"/><rect x="248.73" y="248.17" width="25.17" height="25.12" fill="#21918c"/><rect x="0.00" y="272.98" width="25.17" height="25.12" fill="#2c738e"/><rect x="24.87" y="272.98" width="25.17" height="25.12" fill="#1e9c89"/><rect x="49.75" y="272.98" width="25.17" height="25.12" fill="#23898e"/><rect x="74.62" y="272.98" width="25.17" height="25.12" fill="#25848e"/><rect x="99.49" y="272.98" width="25.17" height="25.12" fill="#25848e"/><rect x="124.36" y="272.98" width="25.17" height="25.12" fill="#23898e"/><rect x="149.24" y="272.98" width="25.17" height="25.12" fill="#25848e"/><rect x="174.11" y="272.98" width="25.17" height="25.12" fill="#440154"/><rect x="198.98" y="272.98" width="25.17" height="25.12" fill="#440154"/><rect x="223.85" y="272.98" width="25.17" height="25.12" fill="#440154"/><rect x="248.73" y="272.98" width="25.17" height="25.12" fill="#440154"/><rect x="174.11" y="272.98" width="100.49" height="25.82" fill="#440154"/><rect x="0.5" y="0.5" width="272.6" height="296.8" fill="none" stroke="#1c2228" stroke-width="1" shape-rendering="auto"/></svg>
<div class="lbl" style="left:215.15px;top:451.1px">3 KB</div>
<div class="lbl" style="left:518.65px;top:451.1px">5 KB</div>
<div class="lbl" style="left:215.15px;top:782.6px">10 KB</div>
<div class="lbl" style="left:518.65px;top:782.6px">30 KB</div>
<div class="ln" style="top:817.1px"><b>Figure 1.4:</b> Feature map of intermediate <span class="sf">add_3</span> layer of ResNet-34 compressed to different sizes. The tensor</div>
<div class="ln" style="top:833.8px">of shape <span class="m">(<i>h</i>, <i>w</i>, <i>c</i>)</span> is uniformly quantized to 8-bits, then tiled into a grid of <span class="m">(<i>h</i>, <i>w</i>)</span> shaped channels. Different</div>
<div class="ln" style="top:850.4px">levels of JPEG compression are applied to the resulting “image”. Shown here are JPEGs of size 3, 5, 10,</div>
<div class="ln" style="top:867.1px">and 30 KiB. (The last of these is visually identical to the original tensor “image”.) The preceding layers</div>
<div class="ln" style="top:883.7px">within the network consist of conv2d layers, pooling layers, BatchNorm layers, addition layers, and ReLU</div>
<div class="ln" style="top:900.4px">activation layers. Because of this, some characteristics of the original image are still visually apparent within</div>
<div class="ln" style="top:917.1px">the individual channels (e.g. the outline of a dog). There are also inter-channel similarities. For example,</div>
<div class="ln" style="top:933.7px">one can classify the channels as “light”, “dark”, “noisy”, “smooth”, or some combination thereof. These</div>
<div class="ln last" style="top:950.4px">inter-channel similarities can be exploited for better compression.</div>
<div class="pg" style="left:421.3px;top:1017.3px">8</div>
</body></html>
